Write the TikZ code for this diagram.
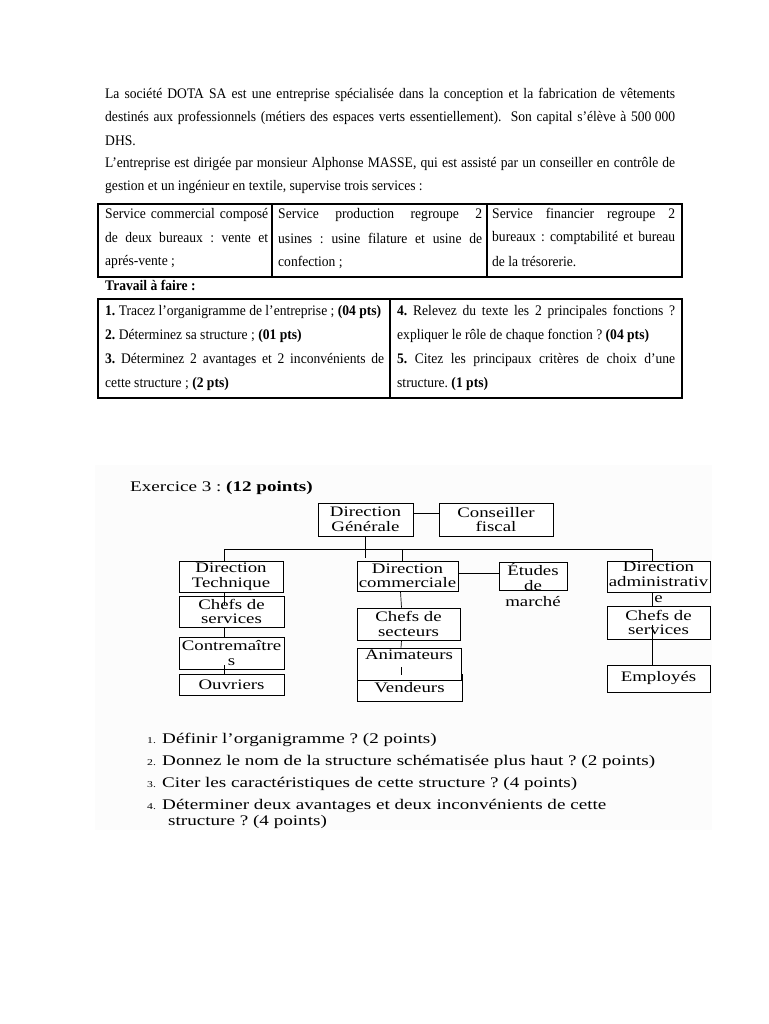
\documentclass[tikz,border=0pt]{standalone}
\usepackage{fontspec}
\setmainfont{Liberation Serif}
\newfontfamily\texte[FakeStretch=0.93]{Liberation Serif}
\newfontfamily\exo[FakeStretch=1.3]{Liberation Serif}
\usetikzlibrary{positioning}
\frenchspacing

\begin{document}
\begin{tikzpicture}[x=1pt, y=-1pt, every node/.style={inner sep=0pt}]
  \tikzset{
    ligne/.style={anchor=west, font=\texte\fontsize{14.6}{16}\selectfont},
    cadre/.style={draw, line width=0.8pt, fill=white, align=center, font=\exo\fontsize{14.5}{14.5}\selectfont},
    libre/.style={align=center, font=\exo\fontsize{14.5}{15.5}\selectfont},
    question/.style={anchor=west, font=\exo\fontsize{14.7}{16}\selectfont},
    numero/.style={anchor=west, font=\exo\fontsize{9}{9}\selectfont},
    trait/.style={line width=0.7pt},
    tableau/.style={line width=1.6pt}
  }
  \useasboundingbox[fill=white] (0,0) rectangle (768,1024);

  % enonce
  \node[ligne] (p1) at (105,95)  {\makebox[570pt][s]{La société DOTA SA est une entreprise spécialisée dans la conception et la fabrication de vêtements}};
  \node[ligne] (p2) at (105,118) {\makebox[570pt][s]{destinés aux professionnels (métiers des espaces verts essentiellement). \ Son capital s’élève à \mbox{500 000}}};
  \node[ligne] (p3) at (105,141) {DHS.};
  \node[ligne] (p4) at (105,164) {\makebox[570pt][s]{L’entreprise est dirigée par monsieur Alphonse MASSE, qui est assisté par un conseiller en contrôle de}};
  \node[ligne] (p5) at (105,187) {gestion et un ingénieur en textile, supervise trois services :};

  % tableau des services
  \draw[tableau] (98,204) rectangle (682,277);
  \draw[tableau] (272,204) -- (272,277);
  \draw[tableau] (487,204) -- (487,277);
  \node[ligne] (s11) at (105,215) {\makebox[163pt][s]{Service commercial composé}};
  \node[ligne] (s12) at (105,238) {\makebox[163pt][s]{de deux bureaux : vente et}};
  \node[ligne] (s13) at (105,262) {aprés-vente ;};
  \node[ligne] (s21) at (278,215) {\makebox[204pt][s]{Service production regroupe 2}};
  \node[ligne] (s22) at (278,238) {\makebox[204pt][s]{usines : usine filature et usine de}};
  \node[ligne] (s23) at (278,262) {confection ;};
  \node[ligne] (s31) at (492,215) {\makebox[183pt][s]{Service financier regroupe 2}};
  \node[ligne] (s32) at (492,238) {\makebox[183pt][s]{bureaux : comptabilité et bureau}};
  \node[ligne] (s33) at (492,262) {de la trésorerie.};

  \node[ligne] (travail) at (105,285) {\textbf{Travail à faire :}};

  % tableau des questions
  \draw[tableau] (98,299) rectangle (682,398);
  \draw[tableau] (390,299) -- (390,398);
  \node[ligne] (t1) at (105,312) {\textbf{1.} Tracez l’organigramme de l’entreprise ; \textbf{(04 pts)}};
  \node[ligne] (t2) at (105,336) {\textbf{2.} Déterminez sa structure ; \textbf{(01 pts)}};
  \node[ligne] (t3) at (105,360) {\makebox[279pt][s]{\textbf{3.} Déterminez 2 avantages et 2 inconvénients de}};
  \node[ligne] (t4) at (105,384) {cette structure ; \textbf{(2 pts)}};
  \node[ligne] (t5) at (397,312) {\makebox[278pt][s]{\textbf{4.} Relevez du texte les 2 principales fonctions ?}};
  \node[ligne] (t6) at (397,336) {expliquer le rôle de chaque fonction ? \textbf{(04 pts)}};
  \node[ligne] (t7) at (397,360) {\makebox[278pt][s]{\textbf{5.} Citez les principaux critères de choix d’une}};
  \node[ligne] (t8) at (397,384) {structure. \textbf{(1 pts)}};

  % exercice 3
  \fill[black!1] (95,465) rectangle (712,830);
  \node[question] (titre) at (130,488) {Exercice 3 : \textbf{(12 points)}};

  \node[cadre, minimum width=95pt,  minimum height=33pt] (dg) at (365.5,519.5) {Direction\\Générale};
  \node[cadre, minimum width=114pt, minimum height=33pt] (cf) at (496,519.5) {Conseiller\\fiscal};

  \node[cadre, minimum width=104pt, minimum height=31pt] (dt) at (231,576.5) {Direction\\Technique};
  \node[cadre, minimum width=101pt, minimum height=30pt] (dc) at (407.5,576) {Direction\\commerciale};
  \node[cadre, minimum width=68pt,  minimum height=28pt] (em) at (533,576) {};
  \node[libre, anchor=north] (emtxt) at ([yshift=-1pt]em.north) {Études\\de\\marché};
  \node[cadre, minimum width=103pt, minimum height=31pt] (da) at (658.5,576.5) {};
  \node[libre, anchor=north] (datxt) at ([yshift=-1pt]da.north) {Direction\\administrativ\\e};

  \node[cadre, minimum width=105pt, minimum height=31pt] (dtchef) at (231.5,611.5) {Chefs de\\services};
  \node[cadre, minimum width=105pt, minimum height=32pt] (ctr) at (231.5,653) {Contremaître\\s};
  \node[cadre, minimum width=105pt, minimum height=21pt] (ouv) at (231.5,684.5) {Ouvriers};

  \node[cadre, minimum width=103pt, minimum height=32pt] (dcchef) at (408.5,624) {Chefs de\\secteurs};
  \node[cadre, minimum width=105pt, minimum height=27pt] (vend) at (409.5,688) {Vendeurs};
  \node[cadre, minimum width=104pt, minimum height=32pt] (anim) at (409,664) {};
  \node[libre, anchor=north] (animtxt) at ([yshift=-2pt]anim.north) {Animateurs};

  \node[cadre, minimum width=103pt, minimum height=33pt] (dachef) at (658.5,622.5) {Chefs de\\services};
  \node[cadre, minimum width=103pt, minimum height=27pt] (emp) at (658.5,678.5) {Employés};

  % liaisons
  \coordinate (busL) at (224,549);
  \coordinate (busR) at (652,549);
  \draw[trait] ([yshift=6pt]dg.east) -- ([yshift=6pt]cf.west);
  \draw[trait] (dg.south) -- ++(0,22);
  \draw[trait] (dt.north -| busL) |- (busR) -- (da.north -| busR);
  \draw[trait] ([xshift=-5pt]dc.north) -- ([xshift=-5pt]dc.north |- busL);
  \draw[trait] ([yshift=3pt]dc.east) -- ([yshift=3pt]em.west);
  \draw[trait] (dt.south -| busL) -- ++(0,13);
  \draw[trait] (dtchef.south -| busL) -- (ctr.north -| busL);
  \draw[trait] ([yshift=4pt]ctr.south -| busL) -- (ouv.north -| busL);
  \draw[trait] ([xshift=-7pt]dc.south) -- ([xshift=-7pt]dcchef.south |- dcchef.north);
  \draw[trait] ([xshift=-7pt]dcchef.south) -- ([xshift=-8pt]anim.north);
  \draw[trait] ([xshift=-8pt,yshift=13pt]anim.south) -- ([xshift=-8pt,yshift=5pt]anim.south);
  \draw[trait] (da.south -| busR) -- (dachef.north -| busR);
  \draw[trait] ([yshift=14pt]dachef.south -| busR) -- (emp.north -| busR);

  % questions
  \foreach \n/\y/\q in {1/740/{Définir l’organigramme ? (2 points)},
                        2/762/{Donnez le nom de la structure schématisée plus haut ? (2 points)},
                        3/784/{Citer les caractéristiques de cette structure ? (4 points)},
                        4/806/{Déterminer deux avantages et deux inconvénients de cette}} {
    \node[numero] (n\n) at (147,\y+1) {\n.};
    \node[question] (q\n) at (162,\y) {\q};
  }
  \node[question] (q4b) at (168,822) {structure ? (4 points)};
\end{tikzpicture}
\end{document}
